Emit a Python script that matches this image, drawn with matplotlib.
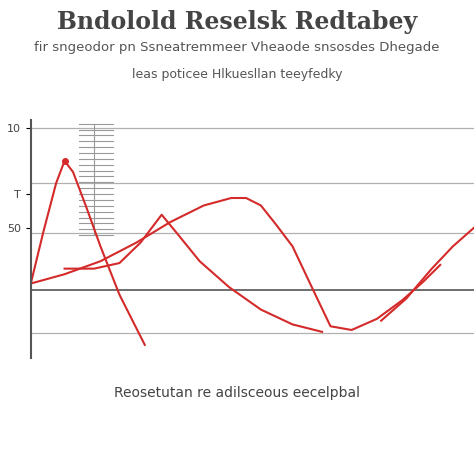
import numpy as np
import matplotlib.pyplot as plt

# values (x across, y = height in chart units)
grid_levels = [0.67, 1.83, 3.36, 4.7, 6.18]
curve_a_x = [0.0, 0.3, 0.6, 0.8, 1.0, 1.3, 1.65, 2.1, 2.7]
curve_a_y = [2.0, 3.4, 4.7, 5.3, 5.0, 4.1, 3.0, 1.7, 0.35]
curve_b_x = [0.0, 0.8, 1.65, 2.5, 3.3, 4.1, 4.75, 5.1, 5.45, 5.8, 6.2, 6.7, 7.1, 7.6, 8.2, 8.8, 9.3, 9.7]
curve_b_y = [2.0, 2.25, 2.6, 3.1, 3.65, 4.1, 4.3, 4.3, 4.1, 3.6, 3.0, 1.8, 0.85, 0.75, 1.05, 1.55, 2.05, 2.5]
curve_c_x = [0.8, 1.5, 2.1, 2.6, 3.1, 3.5, 4.0, 4.7, 5.45, 6.2, 6.9]
curve_c_y = [2.4, 2.4, 2.55, 3.1, 3.85, 3.3, 2.6, 1.9, 1.3, 0.9, 0.7]
curve_d_x = [8.3, 8.9, 9.5, 10.0, 10.5]
curve_d_y = [1.0, 1.6, 2.4, 3.0, 3.5]
ladder_y = np.linspace(3.3, 6.3, 20)
y_ticks = [6.18, 4.4, 3.5]
y_labels = ['10', 'T', '50']

fig = plt.figure(figsize=(4.74, 4.74), dpi=100)
ax = fig.add_axes([0.065, 0.245, 0.935, 0.502])
ax.set_xlim(0, 10.5)
ax.set_ylim(0, 6.4)
for lv in grid_levels:
    ax.axhline(lv, color='#555555' if lv == 1.83 else '#b0b0b0', lw=1.2 if lv == 1.83 else 0.9)
for yy in ladder_y:
    ax.plot([1.15, 1.95], [yy, yy], color='#999999', lw=0.8)
ax.plot([1.5, 1.5], [3.3, 6.3], color='#999999', lw=0.8)
for xs, ys in [(curve_a_x, curve_a_y), (curve_b_x, curve_b_y),
               (curve_c_x, curve_c_y), (curve_d_x, curve_d_y)]:
    ax.plot(xs, ys, color='#d42a2a', lw=1.5)
ax.plot([0.8], [5.3], 'o', color='#d42a2a', ms=4)
for s in ['top', 'right', 'bottom']:
    ax.spines[s].set_visible(False)
ax.spines['left'].set_color('#555555')
ax.spines['left'].set_linewidth(1.5)
ax.set_xticks([])
ax.set_yticks(y_ticks)
ax.set_yticklabels(y_labels, fontsize=8, color='#444444')

fig.text(0.5, 0.953, 'Bndolold Reselsk Redtabey', ha='center', va='center',
         fontsize=17, family='DejaVu Serif', color='#444444', weight='bold')
fig.text(0.5, 0.9, 'fir sngeodor pn Ssneatremmeer Vheaode snsosdes Dhegade', ha='center',
         va='center', fontsize=9.5, color='#555555')
fig.text(0.5, 0.842, 'leas poticee Hlkuesllan teeyfedky', ha='center', va='center',
         fontsize=9, color='#555555')
fig.text(0.5, 0.17, 'Reosetutan re adilsceous eecelpbal', ha='center', va='center',
         fontsize=10, color='#444444')
fig.savefig('out.png', dpi=100, facecolor='white')
